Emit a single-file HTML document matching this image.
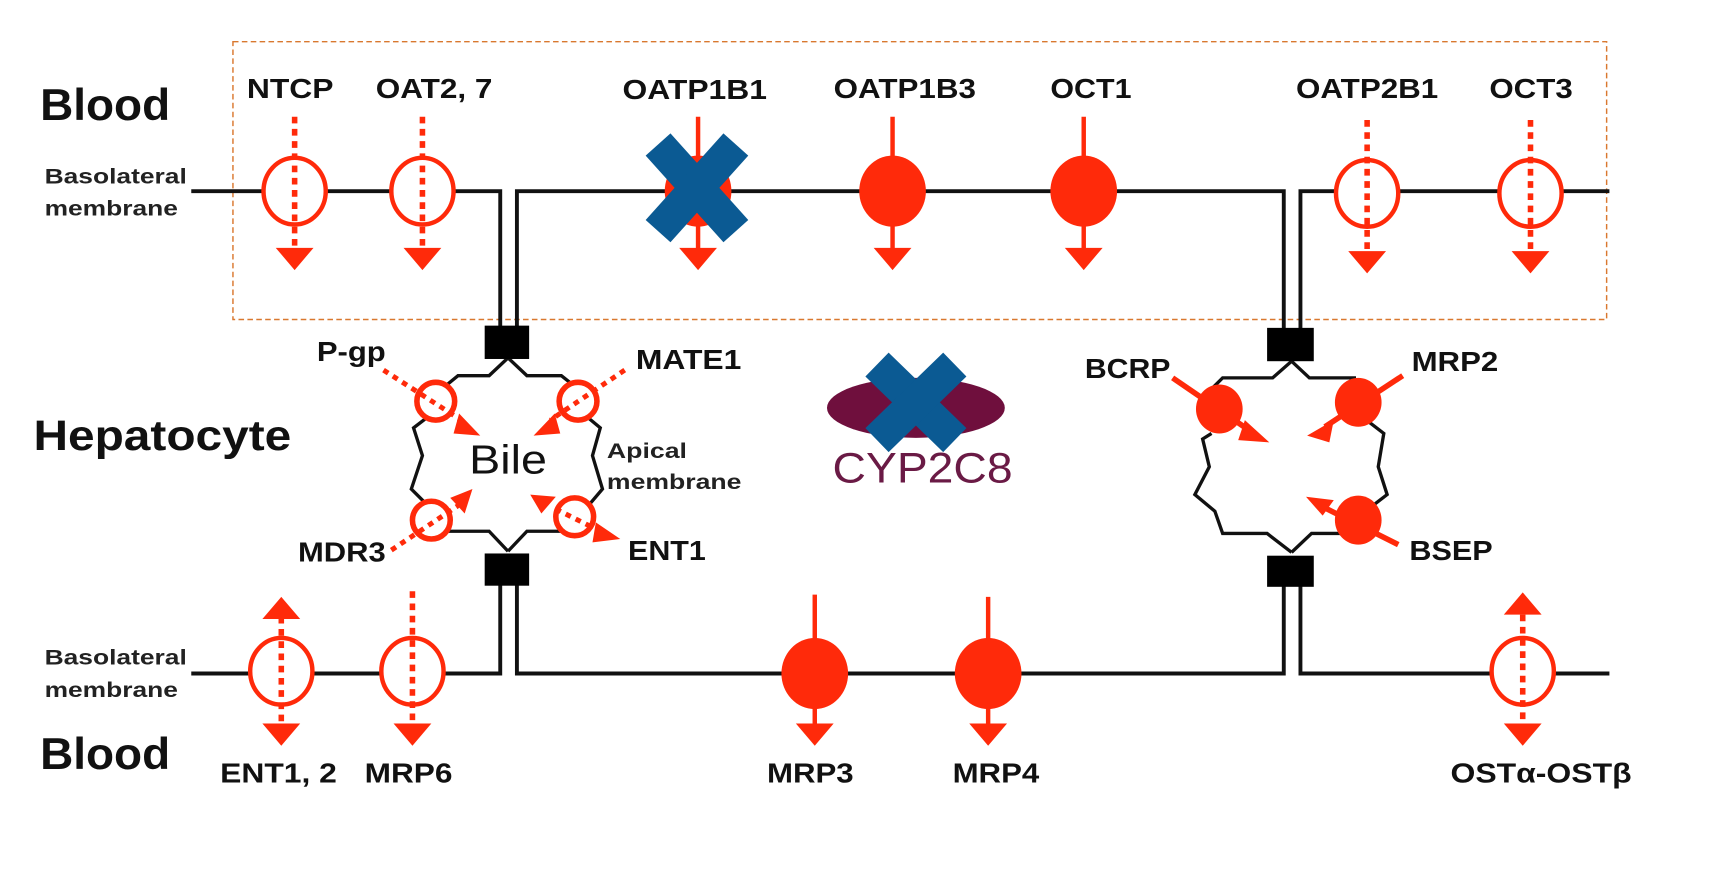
<!DOCTYPE html>
<html><head><meta charset="utf-8"><style>
html,body{margin:0;padding:0;background:#fff;}
svg{display:block}
text{font-family:"Liberation Sans",Arial,sans-serif;}
.lb{font-weight:bold;font-size:25px;fill:#111;}
.sm{font-weight:bold;font-size:19px;fill:#222;}
</style></head><body>
<svg width="1734" height="878" viewBox="0 0 1560 790" xmlns="http://www.w3.org/2000/svg">
<rect x="0" y="0" width="1560" height="790" fill="#fff"/>
<rect x="209.5" y="37.5" width="1236" height="250" fill="none" stroke="#d9782f" stroke-width="1.3" stroke-dasharray="5,3"/>

<g fill="none" stroke="#111" stroke-width="3.5">
<polyline points="172,172 450,172 450,295"/>
<polyline points="465,295 465,172 1155,172 1155,297"/>
<polyline points="1170,297 1170,172 1448,172"/>
<polyline points="172,606 450,606 450,525"/>
<polyline points="465,525 465,606 1155,606 1155,527"/>
<polyline points="1170,527 1170,606 1448,606"/>
<polyline points="457,322 440,338 412,338 395,352" stroke-width="3"/>
<polyline points="385,375 372,385 380,410 370,440 390,460" stroke-width="3"/>
<polyline points="402,478 440,478 457,496" stroke-width="3"/>
<polyline points="457,322 474,338 505,338 520,350" stroke-width="3"/>
<polyline points="528,375 540,385 533,410 542,440 525,460" stroke-width="3"/>
<polyline points="510,478 474,478 457,496" stroke-width="3"/>
<polyline points="1162,325 1145,340 1100,340 1090,350" stroke-width="3"/>
<polyline points="1090,390 1082,395 1088,420 1075,445 1093,460 1100,480 1140,480 1162,497" stroke-width="3"/>
<polyline points="1162,325 1178,340 1220,340" stroke-width="3"/>
<polyline points="1232,380 1245,390 1240,420 1248,445 1235,455" stroke-width="3"/>
<polyline points="1210,480 1180,480 1162,497" stroke-width="3"/>
</g>
<rect x="436" y="293" width="40" height="30" fill="#000"/>
<rect x="436" y="498" width="40" height="29" fill="#000"/>
<rect x="1140" y="295" width="42" height="30" fill="#000"/>
<rect x="1140" y="500" width="42" height="28" fill="#000"/>

<g stroke="#ff2a0a" fill="none">
<g stroke-width="4">
<ellipse cx="265" cy="172" rx="28" ry="30" fill="#fff"/>
<ellipse cx="380" cy="172" rx="28" ry="30" fill="#fff"/>
<ellipse cx="1230" cy="174" rx="28" ry="30" fill="#fff"/>
<ellipse cx="1377" cy="174" rx="28" ry="30" fill="#fff"/>
<ellipse cx="253" cy="604" rx="28" ry="30" fill="#fff"/>
<ellipse cx="371" cy="604" rx="28" ry="30" fill="#fff"/>
<ellipse cx="1370" cy="604" rx="28" ry="30" fill="#fff"/>
</g>
<g stroke-width="5" stroke-dasharray="6,5">
<line x1="265" y1="105" x2="265" y2="228"/>
<line x1="380" y1="105" x2="380" y2="228"/>
<line x1="1230" y1="108" x2="1230" y2="230"/>
<line x1="1377" y1="108" x2="1377" y2="230"/>
<line x1="253" y1="555" x2="253" y2="655"/>
<line x1="371" y1="532" x2="371" y2="655"/>
<line x1="1370" y1="553" x2="1370" y2="655"/>
</g>
<g stroke-width="4">
<line x1="628" y1="105" x2="628" y2="228"/>
<line x1="803" y1="105" x2="803" y2="228"/>
<line x1="975" y1="105" x2="975" y2="228"/>
<line x1="733" y1="535" x2="733" y2="657"/>
<line x1="889" y1="537" x2="889" y2="657"/>
</g>
</g>
<g fill="#ff2a0a">
<ellipse cx="628" cy="172" rx="30" ry="32"/>
<ellipse cx="803" cy="172" rx="30" ry="32"/>
<ellipse cx="975" cy="172" rx="30" ry="32"/>
<ellipse cx="733" cy="606" rx="30" ry="32"/>
<ellipse cx="889" cy="606" rx="30" ry="32"/>
<polygon points="248,223 282,223 265,243"/>
<polygon points="363,223 397,223 380,243"/>
<polygon points="611,223 645,223 628,243"/>
<polygon points="786,223 820,223 803,243"/>
<polygon points="958,223 992,223 975,243"/>
<polygon points="1213,226 1247,226 1230,246"/>
<polygon points="1360,226 1394,226 1377,246"/>
<polygon points="236,651 270,651 253,671"/>
<polygon points="354,651 388,651 371,671"/>
<polygon points="716,651 750,651 733,671"/>
<polygon points="872,651 906,651 889,671"/>
<polygon points="1353,651 1387,651 1370,671"/>
<polygon points="236,557 270,557 253,537"/>
<polygon points="1353,553 1387,553 1370,533"/>
</g>

<g stroke="#ff2a0a" fill="#fff" stroke-width="5">
<circle cx="392" cy="361" r="17"/>
<circle cx="520" cy="361" r="17"/>
<circle cx="388" cy="468" r="17"/>
<circle cx="517" cy="465" r="17"/>
</g>
<g stroke="#ff2a0a" fill="none" stroke-width="4.5" stroke-dasharray="5,5">
<line x1="345" y1="333" x2="418" y2="380"/>
<line x1="562" y1="333" x2="495" y2="378"/>
<line x1="352" y1="495" x2="412" y2="455"/>
<line x1="500" y1="458" x2="540" y2="478"/>
</g>
<g fill="#ff2a0a">
<polygon points="413,372 432,392 408,390"/>
<polygon points="499,372 480,392 504,390"/>
<polygon points="405,448 425,440 418,462"/>
<polygon points="477,445 500,447 487,462"/>
<polygon points="536,470 558,485 533,488"/>
</g>

<g stroke="#ff2a0a" stroke-width="5" fill="none">
<line x1="1055" y1="340" x2="1128" y2="390"/>
<line x1="1262" y1="338" x2="1192" y2="384"/>
<line x1="1258" y1="490" x2="1190" y2="456"/>
</g>
<g fill="#ff2a0a">
<ellipse cx="1097" cy="368" rx="21" ry="22"/>
<ellipse cx="1222" cy="362" rx="21" ry="22"/>
<ellipse cx="1222" cy="468" rx="21" ry="22"/>
<polygon points="1120,378 1142,398 1114,396"/>
<polygon points="1200,378 1176,392 1196,398"/>
<polygon points="1175,447 1200,450 1190,464"/>
</g>

<ellipse cx="824" cy="367" rx="80" ry="27" fill="#6f0f3d"/>
<g stroke="#0b5a93" stroke-width="30">
<line x1="592" y1="130" x2="662" y2="208"/>
<line x1="662" y1="130" x2="592" y2="208"/>
<line x1="789" y1="328" x2="859" y2="396"/>
<line x1="859" y1="328" x2="789" y2="396"/>
</g>
<text x="749" y="434" font-size="38" fill="#6a1a45" textLength="162" lengthAdjust="spacingAndGlyphs">CYP2C8</text>

<text x="36" y="108" font-size="40" font-weight="bold" fill="#111" textLength="117" lengthAdjust="spacingAndGlyphs">Blood</text>
<text x="36" y="692" font-size="40" font-weight="bold" fill="#111" textLength="117" lengthAdjust="spacingAndGlyphs">Blood</text>
<text x="30" y="405" font-size="38" font-weight="bold" fill="#111" textLength="232" lengthAdjust="spacingAndGlyphs">Hepatocyte</text>
<text x="40" y="165" class="sm" textLength="128" lengthAdjust="spacingAndGlyphs">Basolateral</text>
<text x="40" y="194" class="sm" textLength="120" lengthAdjust="spacingAndGlyphs">membrane</text>
<text x="40" y="598" class="sm" textLength="128" lengthAdjust="spacingAndGlyphs">Basolateral</text>
<text x="40" y="627" class="sm" textLength="120" lengthAdjust="spacingAndGlyphs">membrane</text>
<text x="546" y="412" class="sm" textLength="72" lengthAdjust="spacingAndGlyphs">Apical</text>
<text x="546" y="440" class="sm" textLength="121" lengthAdjust="spacingAndGlyphs">membrane</text>
<text x="422" y="426" font-size="37" fill="#111" textLength="70" lengthAdjust="spacingAndGlyphs">Bile</text>

<g class="lb">
<text x="222" y="88" textLength="78" lengthAdjust="spacingAndGlyphs">NTCP</text>
<text x="338" y="88" textLength="105" lengthAdjust="spacingAndGlyphs">OAT2, 7</text>
<text x="560" y="89" textLength="130" lengthAdjust="spacingAndGlyphs">OATP1B1</text>
<text x="750" y="88" textLength="128" lengthAdjust="spacingAndGlyphs">OATP1B3</text>
<text x="945" y="88" textLength="73" lengthAdjust="spacingAndGlyphs">OCT1</text>
<text x="1166" y="88" textLength="128" lengthAdjust="spacingAndGlyphs">OATP2B1</text>
<text x="1340" y="88" textLength="75" lengthAdjust="spacingAndGlyphs">OCT3</text>
<text x="198" y="704" textLength="105" lengthAdjust="spacingAndGlyphs">ENT1, 2</text>
<text x="328" y="704" textLength="79" lengthAdjust="spacingAndGlyphs">MRP6</text>
<text x="690" y="704" textLength="78" lengthAdjust="spacingAndGlyphs">MRP3</text>
<text x="857" y="704" textLength="78" lengthAdjust="spacingAndGlyphs">MRP4</text>
<text x="1305" y="704" textLength="163" lengthAdjust="spacingAndGlyphs">OSTα-OSTβ</text>
<text x="285" y="325" textLength="62" lengthAdjust="spacingAndGlyphs">P-gp</text>
<text x="572" y="332" textLength="95" lengthAdjust="spacingAndGlyphs">MATE1</text>
<text x="268" y="505" textLength="79" lengthAdjust="spacingAndGlyphs">MDR3</text>
<text x="565" y="504" textLength="70" lengthAdjust="spacingAndGlyphs">ENT1</text>
<text x="976" y="340" textLength="77" lengthAdjust="spacingAndGlyphs">BCRP</text>
<text x="1270" y="334" textLength="78" lengthAdjust="spacingAndGlyphs">MRP2</text>
<text x="1268" y="504" textLength="75" lengthAdjust="spacingAndGlyphs">BSEP</text>
</g>
</svg>
</body></html>
